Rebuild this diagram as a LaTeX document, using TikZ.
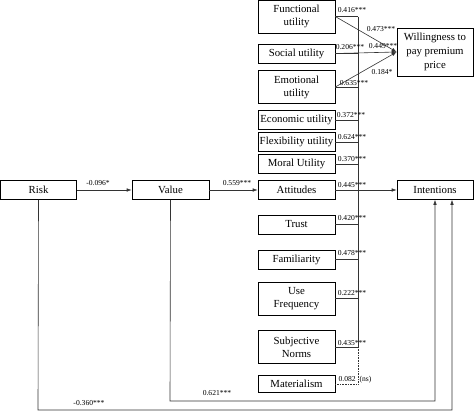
\documentclass[tikz,border=0pt]{standalone}
\usepackage{fontspec}
\setmainfont{Liberation Serif}
\usetikzlibrary{arrows.meta}
\usetikzlibrary{calc}

\begin{document}
\begin{tikzpicture}
  [
    x=1pt,y=-1pt,
    cbox/.style={
      draw,
      line width=0.6pt,
      minimum width=77pt,
      minimum height=19pt,
      inner sep=1pt,
      align=center,
      font=\fontsize{10.8}{13}\selectfont
    },
    tallbox/.style={
      cbox,
      minimum height=33pt
    },
    coef/.style={
      inner sep=0pt,
      font=\fontsize{7.6}{8}\selectfont
    },
    link/.style={
      line width=0.6pt,
      black!80
    },
    arr/.style={
      link,
      -{Latex[length=5pt,width=3.5pt]}
    },
    nslink/.style={
      link,
      densely dotted
    }
  ]
    \useasboundingbox (0,0) rectangle (474,413);
    % left chain
    \node [cbox,minimum width=76pt] (risk) at (38.5,190) {Risk};
    \node [cbox] (value) at (170.5,190) {Value};
    % column of constructs
    \node [tallbox] (func) at (296.5,16.5) {Functional\\utility};
    \node [cbox] (social) at (296.5,53.5) {Social utility};
    \node [tallbox] (emot) at (296.5,87) {Emotional\\utility};
    \node [cbox] (econ) at (296.5,120) {Economic utility};
    \node [cbox] (flex) at (296.5,142) {Flexibility utility};
    \node [cbox] (moral) at (296.5,164) {Moral Utility};
    \node [cbox] (att) at (296.5,190) {Attitudes};
    \node [cbox] (trust) at (296.5,224.5) {Trust};
    \node [cbox] (famil) at (296.5,259.5) {Familiarity};
    \node [tallbox] (usefreq) at (296.5,298.5) {Use\\Frequency};
    \node [tallbox] (subj) at (296.5,347) {Subjective\\Norms};
    \node [cbox,minimum height=17pt] (mat) at (296.5,384) {Materialism};
    % outcomes
    \node [cbox,minimum width=76pt,minimum height=48pt,font=\fontsize{10.8}{14}\selectfont] (wtp) at (435,52) {Willingness to\\pay premium\\price};
    \node [cbox,minimum width=76pt] (intent) at (435,190) {Intentions};
    % collecting bar
    \coordinate (bar) at (358,0);
    \draw [link] (func.east) -- (func.east -| bar);
    \foreach \n in {social,emot,econ,flex,moral,trust,famil,usefreq,subj}
      \draw [link] (\n.east) -- (\n.east -| bar);
    \draw [link] (func.east -| bar) -- (subj.east -| bar);
    \draw [nslink] (subj.east -| bar) -- (mat.east -| bar) -- (mat.east);
    % arrows
    \draw [arr] (risk) -- (value);
    \draw [arr] (value) -- (att);
    \draw [arr] (att) -- (intent);
    \draw [arr] (func.east) -- (wtp.west);
    \draw [arr] (social.east) -- (wtp.west);
    \draw [arr] (emot.east) -- (wtp.west);
    \draw [arr] (value.south) -- (170,401) -| ($(intent.south)$);
    \draw [arr] (risk.south) -- (38,410) -| ($(intent.south)+(17,0)$);
    % labels
    \node [coef] at (98,183) {-0.096*};
    \node [coef] at (237,183) {0.559***};
    \node [coef] at (352,10) {0.416***};
    \node [coef] at (350,47) {0.206***};
    \node [coef] at (354,83) {0.635***};
    \node [coef] at (381,29) {0.473***};
    \node [coef] at (383,46) {0.449***};
    \node [coef] at (382,72) {0.184*};
    \node [coef] at (351,115) {0.372***};
    \node [coef] at (352,137) {0.624***};
    \node [coef] at (352,159) {0.370***};
    \node [coef] at (352,185) {0.445***};
    \node [coef] at (352,218) {0.420***};
    \node [coef] at (352,253) {0.478***};
    \node [coef] at (352,293) {0.222***};
    \node [coef] at (352,343) {0.435***};
    \node [coef] at (355,380) {0.082\ \ (ns)};
    \node [coef] at (217,393) {0.621***};
    \node [coef] at (89,403) {-0.360***};
  \end{tikzpicture}
\end{document}
